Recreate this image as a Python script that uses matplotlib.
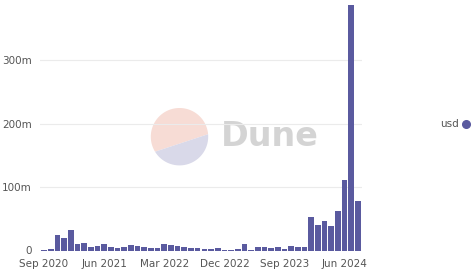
import numpy as np
import matplotlib
matplotlib.use("Agg")
import matplotlib.pyplot as plt
from matplotlib.patches import Polygon

# monthly volume, Sep 2020 .. Aug 2024 (millions of usd)
months = ["Sep 2020", "Oct 2020", "Nov 2020", "Dec 2020", "Jan 2021", "Feb 2021",
          "Mar 2021", "Apr 2021", "May 2021", "Jun 2021", "Jul 2021", "Aug 2021",
          "Sep 2021", "Oct 2021", "Nov 2021", "Dec 2021", "Jan 2022", "Feb 2022",
          "Mar 2022", "Apr 2022", "May 2022", "Jun 2022", "Jul 2022", "Aug 2022",
          "Sep 2022", "Oct 2022", "Nov 2022", "Dec 2022", "Jan 2023", "Feb 2023",
          "Mar 2023", "Apr 2023", "May 2023", "Jun 2023", "Jul 2023", "Aug 2023",
          "Sep 2023", "Oct 2023", "Nov 2023", "Dec 2023", "Jan 2024", "Feb 2024",
          "Mar 2024", "Apr 2024", "May 2024", "Jun 2024", "Jul 2024", "Aug 2024"]
usd_m = [1, 2, 25, 19.5, 32.5, 11, 12, 6, 7, 10, 6, 4,
         5.3, 8.2, 6.5, 6, 4.5, 4.5, 11, 9, 7.5, 5.7, 4.2, 3.3,
         1.6, 1.6, 3.7, 0.5, 0.3, 2, 10, 1, 6, 6, 4, 6.3,
         2.5, 7.4, 6, 6, 53, 40, 46, 38, 62, 112, 388, 78]
tick_every = 9
y_ticks = [0, 100e6, 200e6, 300e6]
y_labels = ["0", "100m", "200m", "300m"]

bar_color = "#5a5a9f"
text_color = "#555555"

fig = plt.figure(figsize=(4.74, 2.76), dpi=100)

# background overlay in pixel coords: watermark + legend
ov = fig.add_axes([0, 0, 1, 1], zorder=0)
ov.set_xlim(0, 474)
ov.set_ylim(276, 0)
ov.axis("off")

cx, cy, r = 179.5, 136.7, 28.7
a1, a2 = np.deg2rad(5), np.deg2rad(211.5)
angs_top = np.linspace(a1, a2, 200)
angs_bot = np.linspace(a2, a1 + 2 * np.pi, 200)
# y grows downward here, so flip the sine
top_pts = np.column_stack([cx + r * np.cos(angs_top), cy - r * np.sin(angs_top)])
bot_pts = np.column_stack([cx + r * np.cos(angs_bot), cy - r * np.sin(angs_bot)])
ov.add_patch(Polygon(top_pts, closed=True, facecolor="#f7dcd5", edgecolor="none"))
ov.add_patch(Polygon(bot_pts, closed=True, facecolor="#d9d9e9", edgecolor="none"))
ov.text(221, 137, "Dune", fontsize=24, fontweight="bold", color="#d4d4d4",
        ha="left", va="center")

# legend
ov.text(459, 124, "usd", fontsize=7.5, color=text_color, ha="right", va="center")
ov.plot([466], [124], "o", color=bar_color, markersize=5.5)

ax = fig.add_axes([40 / 474, 25.5 / 276, 322 / 474, 248.5 / 276], zorder=1)
ax.patch.set_alpha(0)

x = np.arange(len(months))
vals = np.array(usd_m) * 1e6
ax.bar(x, vals, width=0.85, color=bar_color, zorder=3)

ax.set_xlim(-0.6, len(months) - 0.4)
ax.set_ylim(0, 392e6)
ax.set_yticks(y_ticks)
ax.set_yticklabels(y_labels)
ax.set_xticks(x[::tick_every])
ax.set_xticklabels(months[::tick_every])
ax.tick_params(length=0, labelsize=7.5, colors=text_color, pad=6)
ax.grid(axis="y", color="#ebebeb", linewidth=0.8, zorder=0)
for s in ax.spines.values():
    s.set_visible(False)

fig.savefig("out.png", dpi=100)
